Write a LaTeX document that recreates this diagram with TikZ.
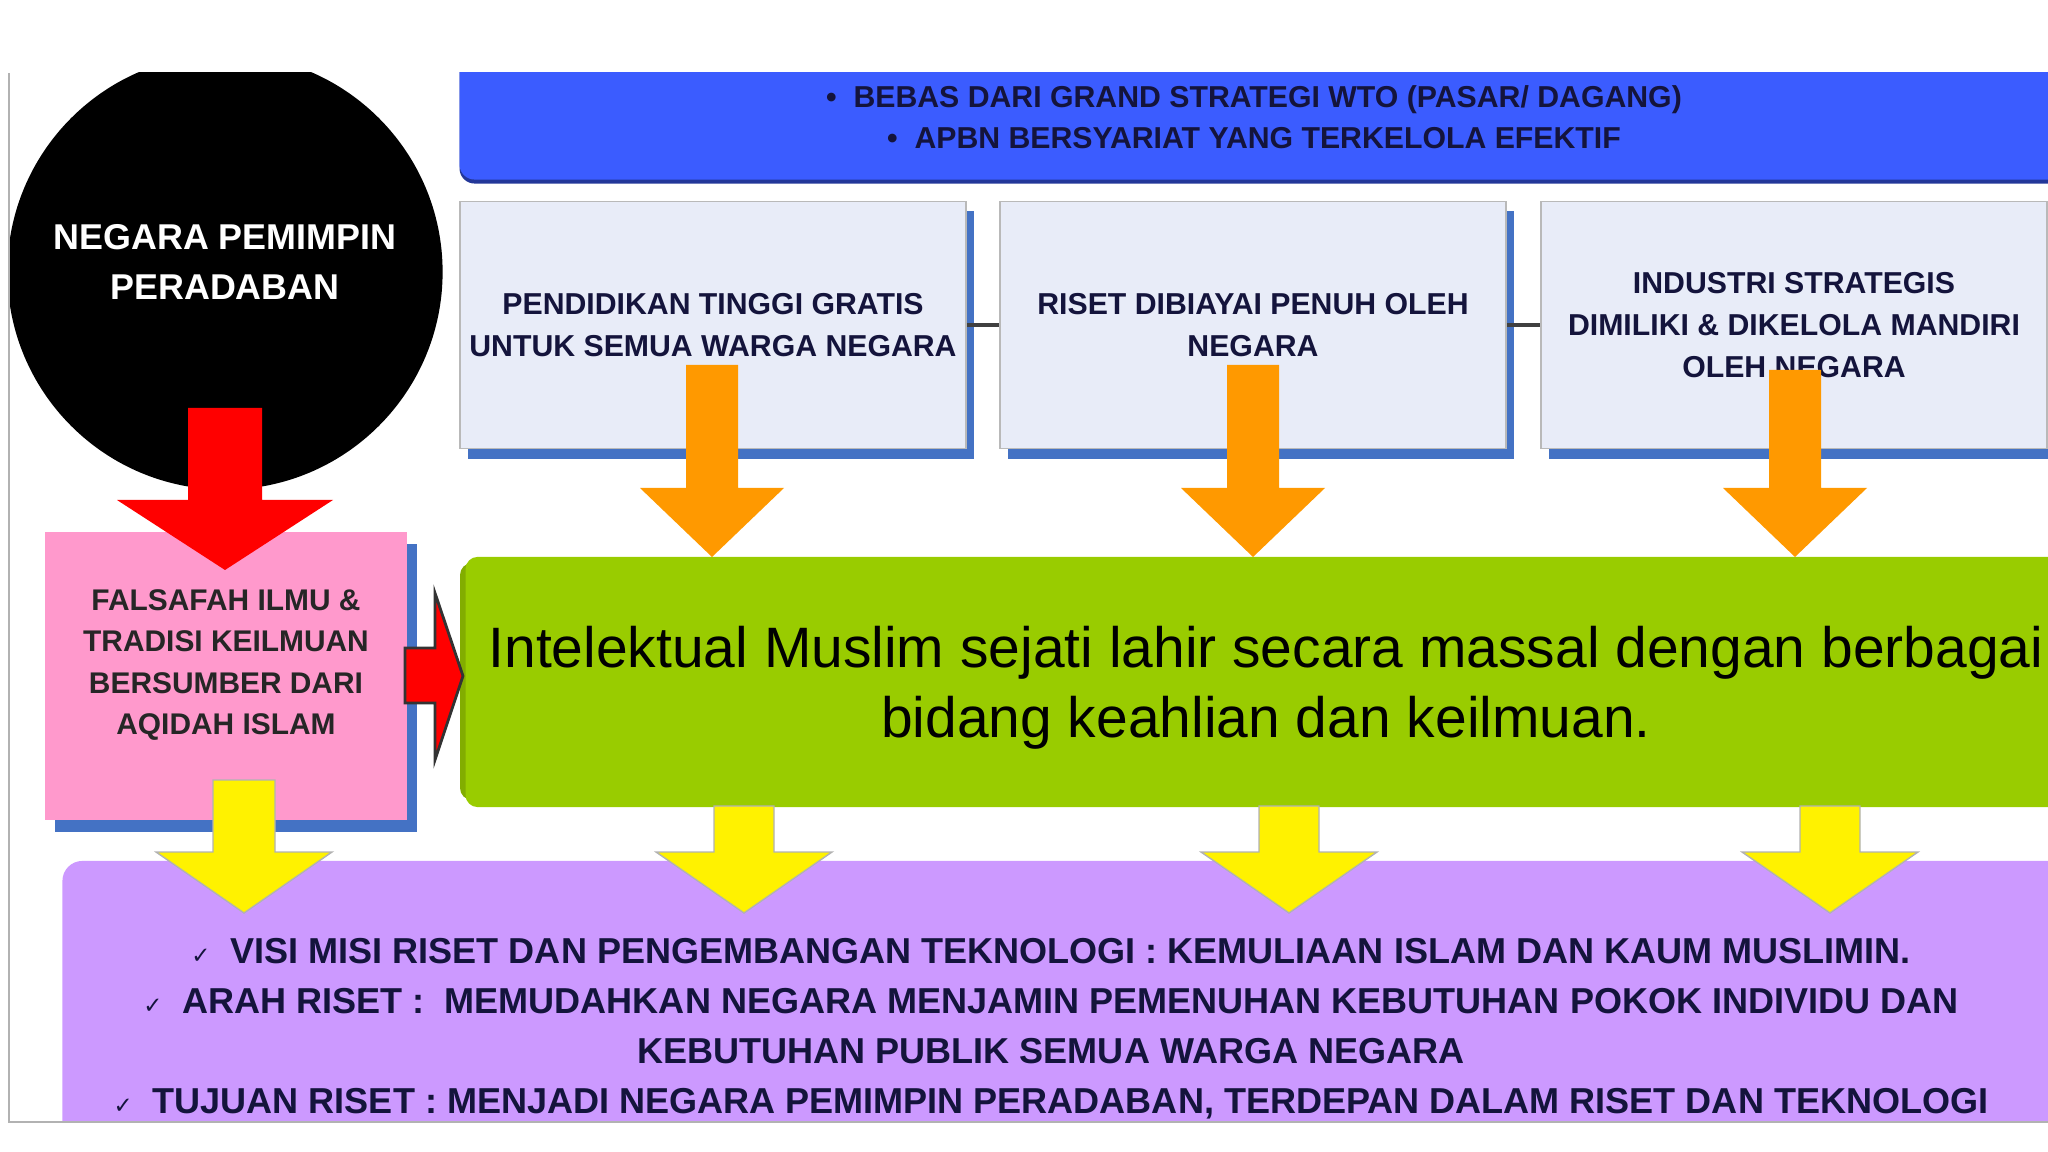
\documentclass[tikz,border=0pt]{standalone}
\usepackage{fontspec}
\setmainfont{Liberation Sans}
\newfontfamily\symfont{DejaVu Sans}
\usetikzlibrary{shadows}

\definecolor{topblue}{RGB}{59,92,255}
\definecolor{navytext}{RGB}{20,20,60}
\definecolor{boxgray}{RGB}{232,236,248}
\definecolor{shadowblue}{RGB}{68,114,196}
\definecolor{pinkbox}{RGB}{255,153,204}
\definecolor{greenbox}{RGB}{153,204,0}
\definecolor{purplebox}{RGB}{204,153,255}
\definecolor{orangearr}{RGB}{255,153,0}

\newcommand{\chkmark}{{\symfont\fontsize{6.5}{6.5}\selectfont ✓}}
% x center, shaft top, head top, tip, half shaft, half head, style
\newcommand{\fatarrow}[7]{%
  \filldraw[#7] (#1-#5,#2) -- (#1+#5,#2) -- (#1+#5,#3) -- (#1+#6,#3)
    -- (#1,#4) -- (#1-#6,#3) -- (#1-#5,#3) -- cycle;}

\begin{document}
\begin{tikzpicture}[x=0.01cm, y=-0.01cm,
  lightbox/.style={draw=gray!55, fill=boxgray, minimum width=5.06cm, minimum height=2.47cm,
    drop shadow={shadow xshift=0.08cm, shadow yshift=-0.1cm, fill=shadowblue, opacity=1}},
  boxtext/.style={align=center, text=navytext, font=\bfseries\fontsize{8.6}{11.9}\selectfont},
  link/.style={very thick, black!75}]
\useasboundingbox (0,0) rectangle (2048,1152);

\begin{scope}
\clip (9,73) rectangle (2048,1122);

%top bar
\node[fill=topblue, rounded corners=0.15cm, minimum width=16.2cm, minimum height=1.39cm,
  drop shadow={shadow xshift=0cm, shadow yshift=-0.04cm, fill=topblue!60!black, opacity=1}]
  (ekonomi) at (1270,110) {};
\node[boxtext, font=\bfseries\fontsize{8.6}{11.7}\selectfont] (ekonomitext) at (1254,117)
  {\textbullet\ \ BEBAS DARI GRAND STRATEGI WTO (PASAR/ DAGANG)\\
   \textbullet\ \ APBN BERSYARIAT YANG TERKELOLA EFEKTIF};

%three pillars
\node[lightbox] (pendidikan) at (713,325) {};
\node[lightbox] (riset) at (1253,325) {};
\node[lightbox] (industri) at (1794,325) {};
\node[boxtext] at (pendidikan) {PENDIDIKAN TINGGI GRATIS\\UNTUK SEMUA WARGA NEGARA};
\node[boxtext] at (riset) {RISET DIBIAYAI PENUH OLEH\\NEGARA};
\node[boxtext] at (industri) {INDUSTRI STRATEGIS\\DIMILIKI \& DIKELOLA MANDIRI\\OLEH NEGARA};
\draw[link] (pendidikan.east) -- (riset.west);
\draw[link] (riset.east) -- (industri.west);

%state circle
\node[circle, fill=black, minimum size=4.35cm] (negara) at (225,272) {};
\node[align=center, text=white, font=\bfseries\fontsize{10.2}{14.2}\selectfont]
  (negaratext) at (225,262) {NEGARA PEMIMPIN\\PERADABAN};

%philosophy box
\node[fill=pinkbox, minimum width=3.62cm, minimum height=2.88cm,
  drop shadow={shadow xshift=0.1cm, shadow yshift=-0.12cm, fill=shadowblue, opacity=1}]
  (falsafah) at (226,676) {};
\node[boxtext, text=black!85, font=\bfseries\fontsize{8.5}{11.7}\selectfont] (falsafahtext) at (226,665)
  {FALSAFAH ILMU \&\\TRADISI KEILMUAN\\BERSUMBER DARI\\AQIDAH ISLAM};
\fatarrow{225}{408}{500}{570}{37}{108}{fill=red, draw=none}

%result box
\fill[greenbox!85!black, rounded corners=0.12cm] (460,563) rectangle (2080,800);
\node[fill=greenbox, rounded corners=0.12cm, minimum width=16.1cm, minimum height=2.5cm]
  (intelektual) at (1271,682) {};
\node[align=center, font=\fontsize{16.2}{19.8}\selectfont] (intelektualtext) at (1266,688)
  {Intelektual Muslim sejati lahir secara massal dengan berbagai\\bidang keahlian dan keilmuan.};

\fatarrow{712}{365}{488}{557}{26}{72}{fill=orangearr, draw=none}
\fatarrow{1253}{365}{488}{557}{26}{72}{fill=orangearr, draw=none}
\fatarrow{1795}{370}{488}{557}{26}{72}{fill=orangearr, draw=none}

\filldraw[fill=red, draw=black!80, thick] (405,648) -- (435,648) -- (435,593) -- (463,676)
  -- (435,760) -- (435,703) -- (405,703) -- cycle;

%research box
\node[fill=purplebox, rounded corners=0.2cm, minimum width=20.2cm, minimum height=3cm]
  (visi) at (1073,1011) {};
\foreach \x in {744, 1289, 1830}{
  \fatarrow{\x}{806}{852}{913}{30}{88}{fill=yellow, draw=gray!60}
}
\fatarrow{244}{780}{852}{913}{31}{88}{fill=yellow, draw=gray!60}
\node[boxtext, font=\bfseries\fontsize{10.25}{14.2}\selectfont] (visitext) at (1051,1029)
  {\chkmark\ \ VISI MISI RISET DAN PENGEMBANGAN TEKNOLOGI : KEMULIAAN ISLAM DAN KAUM MUSLIMIN.\\
   \chkmark\ \ ARAH RISET :\ \ MEMUDAHKAN NEGARA MENJAMIN PEMENUHAN KEBUTUHAN POKOK INDIVIDU DAN\\
   KEBUTUHAN PUBLIK SEMUA WARGA NEGARA\\
   \chkmark\ \ TUJUAN RISET : MENJADI NEGARA PEMIMPIN PERADABAN, TERDEPAN DALAM RISET DAN TEKNOLOGI};
\end{scope}

%screen frame
\draw[gray!60] (9,73) -- (9,1122) -- (2048,1122);
\end{tikzpicture}
\end{document}
